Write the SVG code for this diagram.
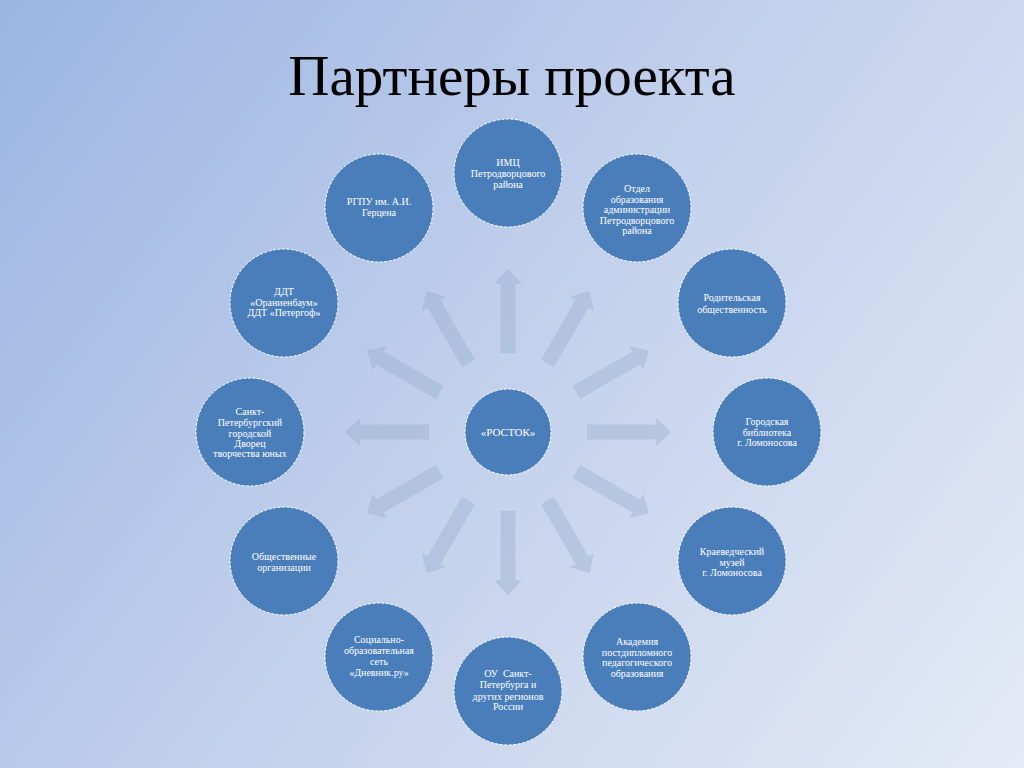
<svg xmlns="http://www.w3.org/2000/svg" width="1024" height="768" viewBox="0 0 1024 768">
<defs>
<linearGradient id="bg" gradientUnits="userSpaceOnUse" x1="0" y1="0" x2="1024" y2="768">
<stop offset="0" stop-color="#9bb5e3"/>
<stop offset="0.5" stop-color="#c3d1ec"/>
<stop offset="1" stop-color="#e4eaf6"/>
</linearGradient>
<path id="arr" d="M79,-7.5 L148,-7.5 L148,-14 L163,0 L148,14 L148,7.5 L79,7.5 Z"/>
</defs>
<style>
.node circle{fill:#4a7ebb;stroke:#ffffff;stroke-width:1;stroke-dasharray:3 1.5}
.node text{font-family:"Liberation Serif","Times New Roman",serif;font-size:10px;fill:#ffffff;text-anchor:middle}
.arrows use{fill:#8ea5c4;fill-opacity:0.32}
.title{font-family:"Liberation Serif","Times New Roman",serif;font-size:57px;fill:#000000;text-anchor:middle}
</style>
<rect width="1024" height="768" fill="url(#bg)"/>
<text class="title" x="512" y="95">Партнеры проекта</text>
<g id="connectors" class="arrows" transform="translate(508,432)">
<use href="#arr" transform="rotate(-90)"/>
<use href="#arr" transform="rotate(-60)"/>
<use href="#arr" transform="rotate(-30)"/>
<use href="#arr" transform="rotate(0)"/>
<use href="#arr" transform="rotate(30)"/>
<use href="#arr" transform="rotate(60)"/>
<use href="#arr" transform="rotate(90)"/>
<use href="#arr" transform="rotate(120)"/>
<use href="#arr" transform="rotate(150)"/>
<use href="#arr" transform="rotate(180)"/>
<use href="#arr" transform="rotate(210)"/>
<use href="#arr" transform="rotate(240)"/>
</g>
<g id="center" class="node">
<circle cx="508" cy="432" r="43"/>
<text x="508" y="436" style="font-size:11px">«РОСТОК»</text>
</g>
<g id="n-imc" class="node">
<circle cx="508" cy="173" r="54"/>
<text x="508" y="166">ИМЦ</text>
<text x="508" y="177">Петродворцового</text>
<text x="508" y="187.5">района</text>
</g>
<g id="n-otdel" class="node">
<circle cx="637" cy="208" r="54"/>
<text x="637" y="192">Отдел</text>
<text x="637" y="202.5">образования</text>
<text x="637" y="213">администрации</text>
<text x="637" y="223.5">Петродворцового</text>
<text x="637" y="234">района</text>
</g>
<g id="n-rodit" class="node">
<circle cx="732" cy="303" r="54"/>
<text x="732" y="301">Родительская</text>
<text x="732" y="312.5">общественность</text>
</g>
<g id="n-bibl" class="node">
<circle cx="767" cy="432" r="54"/>
<text x="767" y="425">Городская</text>
<text x="767" y="435.5">библиотека</text>
<text x="767" y="446">г. Ломоносова</text>
</g>
<g id="n-muzey" class="node">
<circle cx="732" cy="561" r="54"/>
<text x="732" y="555">Краеведческий</text>
<text x="732" y="565.5">музей</text>
<text x="732" y="576">г. Ломоносова</text>
</g>
<g id="n-akad" class="node">
<circle cx="637" cy="657" r="54"/>
<text x="637" y="645">Академия</text>
<text x="637" y="655.5">постдипломного</text>
<text x="637" y="666">педагогического</text>
<text x="637" y="676.5">образования</text>
</g>
<g id="n-ou" class="node">
<circle cx="508" cy="691" r="54"/>
<text x="508" y="677" xml:space="preserve">ОУ  Санкт-</text>
<text x="508" y="688">Петербурга и</text>
<text x="508" y="699.5">других регионов</text>
<text x="508" y="710">России</text>
</g>
<g id="n-dnevnik" class="node">
<circle cx="379" cy="657" r="54"/>
<text x="379" y="643">Социально-</text>
<text x="379" y="654">образовательная</text>
<text x="379" y="665">сеть</text>
<text x="379" y="675.5">«Дневник.ру»</text>
</g>
<g id="n-obsch" class="node">
<circle cx="284" cy="561" r="54"/>
<text x="284" y="560">Общественные</text>
<text x="284" y="570.5">организации</text>
</g>
<g id="n-dvorets" class="node">
<circle cx="250" cy="432" r="54"/>
<text x="250" y="415">Санкт-</text>
<text x="250" y="426">Петербургский</text>
<text x="250" y="437">городской</text>
<text x="250" y="447">Дворец</text>
<text x="250" y="457">творчества юных</text>
</g>
<g id="n-ddt" class="node">
<circle cx="284" cy="303" r="54"/>
<text x="284" y="295">ДДТ</text>
<text x="284" y="305.5">«Ораниенбаум»</text>
<text x="284" y="316">ДДТ «Петергоф»</text>
</g>
<g id="n-rgpu" class="node">
<circle cx="379" cy="208" r="54"/>
<text x="379" y="205">РГПУ им. А.И.</text>
<text x="379" y="216">Герцена</text>
</g>
</svg>
